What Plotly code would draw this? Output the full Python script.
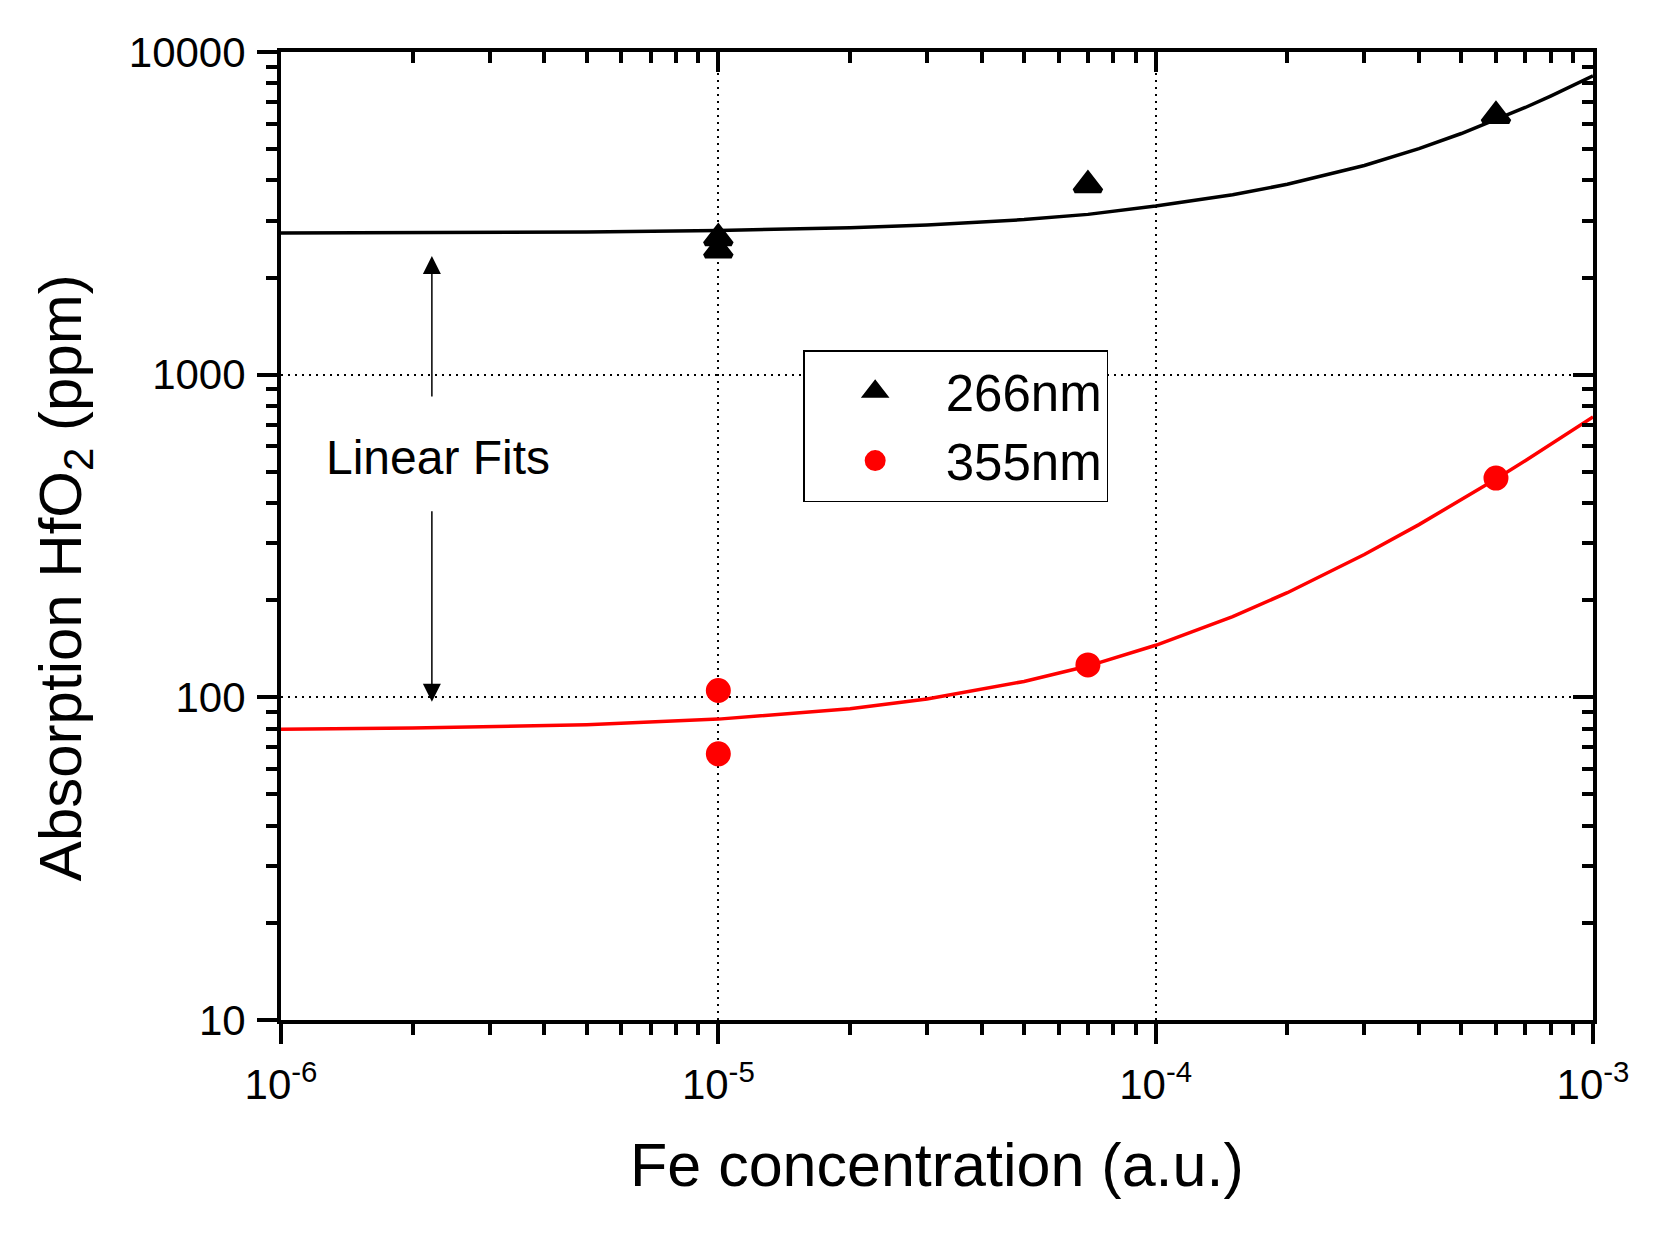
import plotly.graph_objects as go

# measured points
x_266 = [1e-5, 1e-5, 7e-5, 6e-4]
y_266 = [2650, 2430, 3870, 6340]
x_355 = [1e-5, 1e-5, 7e-5, 6e-4]
y_355 = [105, 66.8, 126, 478]

# linear fits, values
x_fit = [1e-6, 2e-6, 5e-6, 1e-5, 2e-5, 3e-5, 5e-5, 7e-5, 1e-4, 1.5e-4,
         2e-4, 3e-4, 4e-4, 5e-4, 6e-4, 7e-4, 8e-4, 9e-4, 1e-3]
y_fit_266 = [2746, 2751, 2768, 2797, 2854, 2911, 3025, 3139, 3330, 3610,
             3890, 4450, 5020, 5590, 6160, 6730, 7300, 7870, 8430]
y_fit_355 = [79.7, 80.3, 82.3, 85.6, 92.2, 98.8, 112, 125, 145, 178,
             211, 277, 343, 409, 475, 541, 607, 673, 740]

x_tickvals = [1e-6, 1e-5, 1e-4, 1e-3]
x_ticktext = ["10<sup>-6</sup>", "10<sup>-5</sup>", "10<sup>-4</sup>", "10<sup>-3</sup>"]
y_tickvals = [10, 100, 1000, 10000]
y_ticktext = ["10", "100", "1000", "10000"]

FONT = "Liberation Sans, Arial, sans-serif"

fig = go.Figure()

# fits on the main axes, markers on the overlay axes so they sit on top
fig.add_trace(go.Scatter(x=x_fit, y=y_fit_266, mode="lines",
                         line=dict(color="black", width=3.5), showlegend=False))
fig.add_trace(go.Scatter(x=x_fit, y=y_fit_355, mode="lines",
                         line=dict(color="red", width=3.5), showlegend=False))
# marker outline of the same colour keeps the (size-capped) legend glyphs larger
fig.add_trace(go.Scatter(x=x_266, y=y_266, mode="markers", name="266nm",
                         xaxis="x2", yaxis="y2",
                         marker=dict(symbol="triangle-up", size=23, color="black",
                                     line=dict(color="black", width=5))))
fig.add_trace(go.Scatter(x=x_355, y=y_355, mode="markers", name="355nm",
                         xaxis="x2", yaxis="y2",
                         marker=dict(symbol="circle", size=20, color="red",
                                     line=dict(color="red", width=5))))

axis_common = dict(
    type="log", showline=True, linecolor="black", linewidth=4, mirror=True,
    ticks="outside", ticklen=20, tickwidth=3.5, tickcolor="black",
    showgrid=True, gridcolor="black", gridwidth=1.5, griddash="2px,5px",
    zeroline=False,
    minor=dict(ticks="outside", ticklen=11, tickwidth=3.5, tickcolor="black",
               dtick="D1", showgrid=False),
    tickfont=dict(family=FONT, size=42, color="black"),
)

mirror_common = dict(
    type="log", showline=False, showgrid=False, zeroline=False, showticklabels=False,
    tickmode="array", ticks="inside", ticklen=20, tickwidth=3.5, tickcolor="black",
    minor=dict(ticks="inside", ticklen=11, tickwidth=3.5, tickcolor="black",
               dtick="D1", showgrid=False),
)

# page body adds 8px around the figure, so plot area is set for that offset
fig.update_layout(
    width=1640, height=1224,
    margin=dict(l=273, r=55, t=44, b=212),
    paper_bgcolor="white", plot_bgcolor="white",
    font=dict(family=FONT, color="black"),
    xaxis=dict(axis_common, range=[-6, -3], tickmode="array",
               tickvals=x_tickvals, ticktext=x_ticktext, ticklabelstandoff=5),
    yaxis=dict(axis_common, range=[1, 4], tickmode="array",
               tickvals=y_tickvals, ticktext=y_ticktext, ticklabelstandoff=3),
    xaxis2=dict(mirror_common, range=[-6, -3], overlaying="x", side="top",
                anchor="y", tickvals=x_tickvals),
    yaxis2=dict(mirror_common, range=[1, 4], overlaying="y", side="right",
                anchor="x", tickvals=y_tickvals),
    legend=dict(x=0.398, y=0.692, xanchor="left", yanchor="top",
                bgcolor="white", bordercolor="black", borderwidth=1.5,
                font=dict(family=FONT, size=51, color="black"),
                itemwidth=131, tracegroupgap=0),
    showlegend=True,
)

# axis titles
fig.add_annotation(text="Fe concentration (a.u.)", xref="paper", yref="paper",
                   x=0.5, y=-0.15, xanchor="center", yanchor="middle",
                   showarrow=False, font=dict(family=FONT, size=61, color="black"))
fig.add_annotation(text="Absorption HfO<sub>2</sub> (ppm)", xref="paper", yref="paper",
                   x=-0.165, y=0.457, xanchor="center", yanchor="middle", textangle=-90,
                   showarrow=False, font=dict(family=FONT, size=60, color="black"))

# "Linear Fits" label with arrows (annotation coords on log axes are log10)
fig.add_annotation(text="Linear Fits", x=-5.641, y=2.742, showarrow=False,
                   font=dict(family=FONT, size=48, color="black"))
fig.add_annotation(x=-5.655, y=3.368, ax=0, ay=142, text="", showarrow=True,
                   arrowhead=2, arrowsize=2.4, arrowwidth=1.5, arrowcolor="black")
fig.add_annotation(x=-5.655, y=1.986, ax=0, ay=-192, text="", showarrow=True,
                   arrowhead=2, arrowsize=2.4, arrowwidth=1.5, arrowcolor="black")

fig.write_html("out.html")
